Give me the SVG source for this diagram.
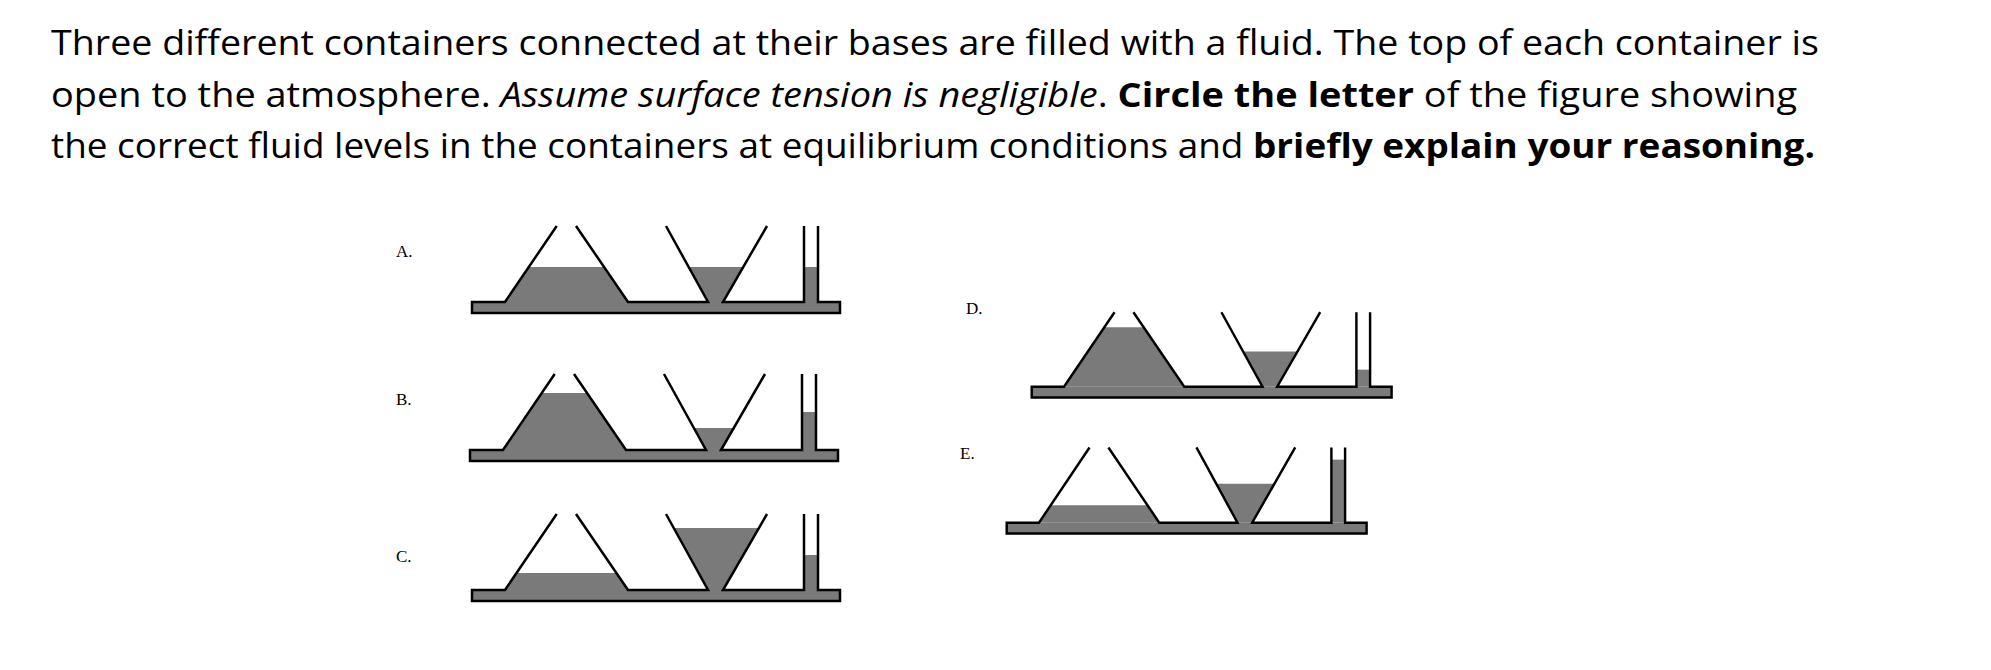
<svg xmlns="http://www.w3.org/2000/svg" width="1991" height="670" viewBox="0 0 1991 670">
<style>
.t{font-family:"Open Sans","Liberation Sans",sans-serif;font-size:34px;fill:#000}
.l{font-family:"Liberation Serif",serif;font-size:17px;fill:#000}
.o{fill:none;stroke:#000;stroke-width:2.5;stroke-linejoin:miter}
.f{fill:#7a7a7a;stroke:none}
</style>
<defs>
<g id="frame">
<rect class="f" x="0" y="0" width="368" height="11"/>
<path class="o" d="M84.7,-76 L33,0 L0,0 L0,11 L368,11 L368,0 L346,0 L346,-76"/>
<path class="o" d="M104,-76 L156,0 L236,0 L194,-76"/>
<path class="o" d="M295,-76 L251,0 L332,0 L332,-76"/>
</g>
</defs>
<rect width="1991" height="670" fill="#fff"/>
<g id="question">
<text class="t" x="51" y="55" textLength="1768" lengthAdjust="spacingAndGlyphs">Three different containers connected at their bases are filled with a fluid. The top of each container is</text>
<text class="t" x="51" y="107" textLength="1746" lengthAdjust="spacingAndGlyphs">open to the atmosphere. <tspan font-style="italic">Assume surface tension is negligible</tspan>. <tspan font-weight="bold">Circle the letter</tspan> of the figure showing</text>
<text class="t" x="51" y="158" textLength="1764" lengthAdjust="spacingAndGlyphs">the correct fluid levels in the containers at equilibrium conditions and <tspan font-weight="bold">briefly explain your reasoning.</tspan></text>
</g>
<g id="figA" transform="translate(472,302)">
<polygon class="f" points="33,0 156,0 132.1,-35 56.8,-35"/>
<polygon class="f" points="236,0 251,0 271.3,-35 216.7,-35"/>
<rect class="f" x="332" y="-35" width="14" height="35"/>
<use href="#frame"/>
</g>
<text class="l" x="396" y="257">A.</text>
<g id="figB" transform="translate(470,450)">
<polygon class="f" points="33,0 156,0 117,-57 71.8,-57"/>
<polygon class="f" points="236,0 251,0 263.7,-22 223.8,-22"/>
<rect class="f" x="332" y="-38" width="14" height="38"/>
<use href="#frame"/>
</g>
<text class="l" x="396" y="405">B.</text>
<g id="figC" transform="translate(472,590)">
<polygon class="f" points="33,0 156,0 144.4,-17 44.6,-17"/>
<polygon class="f" points="236,0 251,0 286.9,-62 201.7,-62"/>
<rect class="f" x="332" y="-35" width="14" height="35"/>
<use href="#frame"/>
</g>
<text class="l" x="396" y="562">C.</text>
<g id="figD" transform="translate(1031.7,386.7) scale(0.978,0.98)">
<polygon class="f" points="33,0 156,0 114.5,-60.7 74.3,-60.7"/>
<polygon class="f" points="236,0 251,0 271.8,-36 216.1,-36"/>
<rect class="f" x="332" y="-17.4" width="14" height="17.4"/>
<use href="#frame"/>
</g>
<text class="l" x="966" y="314">D.</text>
<g id="figE" transform="translate(1006.7,522.7) scale(0.978,0.99)">
<polygon class="f" points="33,0 156,0 143.9,-17.7 45,-17.7"/>
<polygon class="f" points="236,0 251,0 273.8,-39.4 214.2,-39.4"/>
<rect class="f" x="332" y="-63.7" width="14" height="63.7"/>
<use href="#frame"/>
</g>
<text class="l" x="960" y="459">E.</text>
</svg>
